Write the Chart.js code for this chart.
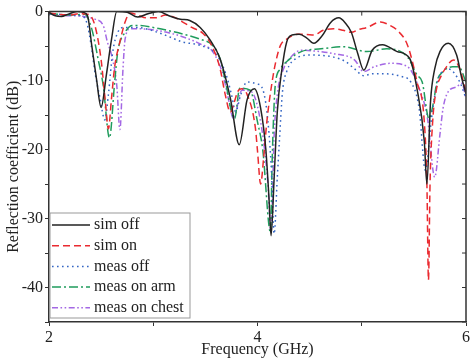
<!DOCTYPE html>
<html>
<head>
<meta charset="utf-8">
<script src="https://cdn.jsdelivr.net/npm/chart.js@4"></script>
<style>
  body { margin: 0; background: #fff; }
  canvas { display: block; }
</style>
</head>
<body>
<canvas id="s11" width="474" height="363"></canvas>
<script>
// frequency (GHz) and reflection coefficient (dB) for each curve
const simOffF  = [2.0, 2.06, 2.12, 2.18, 2.27, 2.33, 2.37, 2.41, 2.455, 2.50, 2.55, 2.60, 2.65, 2.75, 2.85, 2.95, 3.05, 3.15, 3.26, 3.35, 3.45, 3.54, 3.64, 3.74, 3.825, 3.9, 3.97, 4.03, 4.08, 4.11, 4.13, 4.16, 4.19, 4.235, 4.28, 4.33, 4.40, 4.47, 4.54, 4.62, 4.70, 4.78, 4.84, 4.90, 4.96, 5.02, 5.10, 5.20, 5.34, 5.46, 5.53, 5.60, 5.625, 5.66, 5.70, 5.75, 5.83, 5.91, 5.96, 6.0];
const simOffDb = [-0.1, -0.6, -0.7, -0.4, 0, -0.1, -0.6, -4.9, -9.7, -13.9, -9.2, -4, 0, -0.1, -0.8, -0.3, 0, -0.6, -1.1, -1.3, -2.3, -4, -6.8, -12.6, -19.3, -12.8, -11.2, -14, -20, -27, -32.5, -24, -14.5, -8.3, -4.4, -3.4, -3.3, -3.8, -4.6, -3.5, -1.6, -0.9, -1.6, -3, -6, -8.5, -5.6, -4.8, -5.8, -6.8, -11.2, -18.8, -25, -13, -8.3, -5.8, -4.6, -6.3, -9.7, -11.9];

const simOnF  = [2.0, 2.1, 2.2, 2.3, 2.38, 2.44, 2.5, 2.54, 2.57, 2.60, 2.63, 2.68, 2.73, 2.78, 2.85, 2.93, 3.03, 3.12, 3.2, 3.26, 3.37, 3.48, 3.56, 3.64, 3.69, 3.74, 3.78, 3.81, 3.85, 3.9, 3.98, 4.0, 4.03, 4.06, 4.09, 4.14, 4.175, 4.22, 4.28, 4.38, 4.46, 4.54, 4.63, 4.73, 4.82, 4.90, 4.97, 5.05, 5.18, 5.27, 5.34, 5.44, 5.53, 5.60, 5.625, 5.64, 5.655, 5.68, 5.72, 5.75, 5.80, 5.88, 5.94, 6.0];
const simOnDb = [-0.2, -0.4, -0.5, -0.3, -0.4, -2, -7, -13, -17, -12.5, -8, -4.4, -1.5, -0.2, -0.5, -0.9, -0.9, -0.5, -0.8, -1.3, -2.3, -3.2, -4.9, -8.2, -12, -14.6, -13, -11.6, -11.2, -12, -16.9, -20.2, -25, -21, -15.9, -10.2, -7.3, -4.9, -4, -3.3, -3.3, -3.4, -2.7, -2.5, -2.7, -3, -2.6, -2.3, -1.5, -2, -2.7, -4.9, -10.2, -16, -25, -38.9, -25, -16, -11, -9.7, -8.3, -7, -8.3, -11.6];

const measOffF  = [2.0, 2.1, 2.2, 2.3, 2.36, 2.41, 2.44, 2.49, 2.535, 2.57, 2.61, 2.66, 2.72, 2.85, 3.0, 3.13, 3.28, 3.45, 3.61, 3.70, 3.75, 3.79, 3.84, 3.90, 4.0, 4.04, 4.09, 4.13, 4.16, 4.19, 4.21, 4.24, 4.28, 4.37, 4.51, 4.73, 4.85, 4.93, 5.02, 5.10, 5.18, 5.38, 5.47, 5.55, 5.61, 5.67, 5.72, 5.77, 5.83, 5.94, 6.0];
const measOffDb = [-0.3, -0.4, -0.5, -0.6, -1.5, -5.4, -8.7, -12.6, -15.7, -12, -6, -3, -2.3, -2.3, -2.8, -3.5, -4.4, -4.9, -6.3, -9.2, -12, -14.5, -12, -10.2, -10.5, -10.9, -14.5, -22, -32.2, -24, -18.8, -11.6, -8.7, -6.8, -6.3, -6.6, -7.3, -8.3, -9.3, -9, -9, -9.4, -10.2, -14, -23, -15.4, -10.6, -8.7, -8.3, -10.2, -12.6];

const measArmF  = [2.0, 2.1, 2.2, 2.34, 2.41, 2.47, 2.52, 2.58, 2.63, 2.66, 2.73, 2.80, 2.87, 3.0, 3.13, 3.32, 3.45, 3.57, 3.64, 3.70, 3.75, 3.78, 3.83, 3.93, 4.0, 4.05, 4.125, 4.14, 4.155, 4.17, 4.22, 4.30, 4.42, 4.61, 4.83, 5.05, 5.24, 5.44, 5.53, 5.58, 5.645, 5.69, 5.72, 5.78, 5.87, 5.93, 6.0];
const measArmDb = [-0.3, -0.4, -0.5, -0.4, -2.5, -6.8, -10.7, -18.3, -10.2, -5.8, -3, -2, -2, -2.3, -2.7, -3.4, -4, -4.9, -6.8, -10.7, -14.5, -15.5, -11.1, -11.4, -16, -20, -32, -22, -15, -10.7, -8.3, -7, -5.8, -5.4, -5.1, -5.8, -5.4, -6.6, -9.2, -10.2, -15.5, -13, -10.2, -8.7, -8, -8, -10.2];

const measChestF  = [2.0, 2.1, 2.26, 2.37, 2.44, 2.52, 2.56, 2.60, 2.65, 2.68, 2.71, 2.73, 2.78, 2.87, 3.13, 3.38, 3.45, 3.57, 3.67, 3.72, 3.77, 3.85, 3.94, 4.04, 4.10, 4.13, 4.16, 4.19, 4.25, 4.32, 4.42, 4.54, 4.73, 4.93, 5.02, 5.12, 5.28, 5.44, 5.55, 5.63, 5.70, 5.75, 5.78, 5.83, 5.91, 5.96, 6.0];
const measChestDb = [-0.3, -0.6, -0.6, -0.8, -1.1, -2, -4.4, -6.3, -10.7, -17.1, -8.2, -4, -2.5, -2.5, -3, -4.2, -4.7, -5.8, -9.2, -12.6, -15.5, -11.4, -11.6, -16.9, -25, -32, -17.8, -12, -8.3, -6.6, -5.6, -5.7, -6.1, -7, -8.7, -8, -7.5, -8, -11.1, -15.4, -24, -17.8, -14, -11.6, -10.9, -10.4, -12.6];

const seriesNames = ["sim off", "sim on", "meas off", "meas on arm", "meas on chest"];
const seriesColors = ["#222222", "#ea2a30", "#3466c4", "#1f9c5c", "#a468e4"];
const seriesDash = [[], [7, 4], [1.6, 3.4], [9, 3, 2, 3], [6, 2.5, 1.6, 2.5, 1.6, 2.5]];

const xTicks = [2, 4, 6];
const yTicks = [0, -10, -20, -30, -40];

const allF = [simOffF, simOnF, measOffF, measArmF, measChestF];
const allDb = [simOffDb, simOnDb, measOffDb, measArmDb, measChestDb];

function toPoints(fs, dbs) {
    return fs.map((f, i) => ({ x: f, y: dbs[i] }));
}

const serif = "'Liberation Serif', 'Times New Roman', serif";
const axisColor = "#333";

// frame on top/right with inward ticks, plus the boxed legend in the lower left
const framePlugin = {
    id: "frame",
    afterDraw(chart) {
        const ctx = chart.ctx;
        const a = chart.chartArea;
        const xs = chart.scales.x, ys = chart.scales.y;
        ctx.save();
        ctx.strokeStyle = axisColor;
        ctx.lineWidth = 1.5;
        ctx.beginPath();
        ctx.moveTo(a.left, a.top);
        ctx.lineTo(a.right, a.top);
        ctx.lineTo(a.right, a.bottom);
        ctx.stroke();
        ctx.lineWidth = 1;
        ctx.beginPath();
        xs.ticks.forEach(t => {
            const px = xs.getPixelForValue(t.value);
            ctx.moveTo(px, a.top);
            ctx.lineTo(px, a.top + 4);
        });
        ys.ticks.forEach(t => {
            const py = ys.getPixelForValue(t.value);
            ctx.moveTo(a.right, py);
            ctx.lineTo(a.right - 4, py);
        });
        ctx.stroke();

        // legend
        const bx = a.left + 1, bw = 140, rowH = 20.7;
        const bh = 105, by = a.bottom - 4 - bh;
        ctx.fillStyle = "#fff";
        ctx.fillRect(bx, by, bw, bh);
        ctx.strokeStyle = "#999";
        ctx.lineWidth = 1;
        ctx.strokeRect(bx, by, bw, bh);
        ctx.font = "16px " + serif;
        ctx.textBaseline = "middle";
        chart.data.datasets.forEach((ds, i) => {
            const ry = by + 12 + i * rowH;
            ctx.strokeStyle = ds.borderColor;
            ctx.lineWidth = ds.borderWidth;
            ctx.setLineDash(ds.borderDash);
            ctx.beginPath();
            ctx.moveTo(bx + 2, ry);
            ctx.lineTo(bx + 40, ry);
            ctx.stroke();
            ctx.setLineDash([]);
            ctx.fillStyle = "#222";
            ctx.fillText(ds.label, bx + 44, ry);
        });
        ctx.restore();
    }
};

new Chart(document.getElementById("s11"), {
    type: "line",
    data: {
        datasets: seriesNames.map((name, i) => ({
            label: name,
            data: toPoints(allF[i], allDb[i]),
            borderColor: seriesColors[i],
            borderDash: seriesDash[i],
            borderWidth: 1.5,
            pointRadius: 0,
            fill: false,
            cubicInterpolationMode: "monotone"
        }))
    },
    options: {
        responsive: false,
        animation: false,
        layout: { padding: { left: 0, top: 9, right: 8, bottom: 0 } },
        plugins: { legend: { display: false }, tooltip: { enabled: false } },
        scales: {
            x: {
                type: "linear",
                min: 2,
                max: 6,
                afterFit: s => { s.height = 41; },
                ticks: {
                    stepSize: 1,
                    autoSkip: false,
                    maxRotation: 0,
                    padding: 2,
                    color: "#222",
                    font: { family: serif, size: 16 },
                    callback: v => xTicks.includes(v) ? String(v) : ""
                },
                grid: { drawOnChartArea: false, tickLength: 4, color: axisColor },
                border: { color: axisColor, width: 1.5 },
                title: {
                    display: true,
                    text: "Frequency (GHz)",
                    color: "#222",
                    font: { family: serif, size: 16 },
                    padding: { top: 0, bottom: 4 }
                }
            },
            y: {
                min: -45,
                max: 0,
                afterFit: s => { s.width = 49; },
                ticks: {
                    stepSize: 5,
                    autoSkip: false,
                    padding: 2,
                    color: "#222",
                    font: { family: serif, size: 16 },
                    callback: v => yTicks.includes(v) ? String(v) : ""
                },
                grid: { drawOnChartArea: false, tickLength: 4, color: axisColor },
                border: { color: axisColor, width: 1.5 },
                title: {
                    display: true,
                    text: "Reflection coefficient (dB)",
                    color: "#222",
                    font: { family: serif, size: 16 },
                    padding: { top: 4, bottom: 0 }
                }
            }
        }
    },
    plugins: [framePlugin]
});
</script>
</body>
</html>
